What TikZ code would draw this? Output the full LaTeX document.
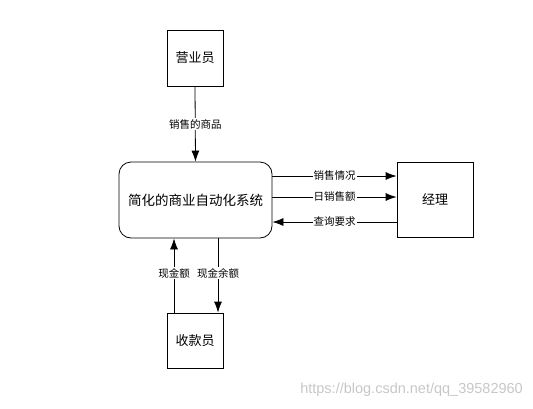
\documentclass[tikz,border=0pt]{standalone}
\usepackage{fontspec}
\setmainfont{Liberation Sans}
\newfontfamily\cjk{Noto Sans CJK SC}
\usetikzlibrary{arrows.meta}
\begin{document}
\begin{tikzpicture}[x=1pt,y=-1pt,
  ent/.style={draw,line width=0.8pt,minimum width=56pt,minimum height=56pt,inner sep=0pt,font=\cjk\fontsize{13}{13}\selectfont},
  proc/.style={draw,line width=0.8pt,rounded corners=12pt,minimum width=153pt,minimum height=76pt,inner sep=0pt,font=\cjk\fontsize{13.5}{13.5}\selectfont},
  flow/.style={line width=0.8pt,-{Latex[length=11pt,width=8pt]}},
  lab/.style={fill=white,inner sep=1pt,font=\cjk\fontsize{10.5}{10.5}\selectfont}]
\useasboundingbox (0,0) rectangle (533,408);
\node[ent] (clerk) at (195,58) {营业员};
\node[proc] (sys) at (195.5,200) {简化的商业自动化系统};
\node[ent,minimum width=76pt,minimum height=75pt] (mgr) at (435,199.5) {经理};
\node[ent,minimum height=55pt] (cash) at (195,340.5) {收款员};
\draw[flow] (clerk.south) -- node[lab,pos=0.5] {销售的商品} (sys.north);
\draw[flow] (sys.east |- 0,176) -- node[lab] {销售情况} (mgr.west |- 0,176);
\draw[flow] (sys.east |- 0,197) -- node[lab] {日销售额} (mgr.west |- 0,197);
\draw[flow] (mgr.west |- 0,222) -- node[lab] {查询要求} (sys.east |- 0,222);
\draw[flow] (cash.north -| 174,0) -- node[lab,pos=0.53] {现金额} (sys.south -| 174,0);
\draw[flow] (sys.south -| 218,0) -- node[lab,pos=0.47] {现金余额} (cash.north -| 218,0);
\node[text=black!22,font=\fontsize{14.5}{14.5}\selectfont,anchor=east,inner sep=0pt] (wm) at (523,390) {https://blog.csdn.net/qq\_39582960};
\end{tikzpicture}
\end{document}
